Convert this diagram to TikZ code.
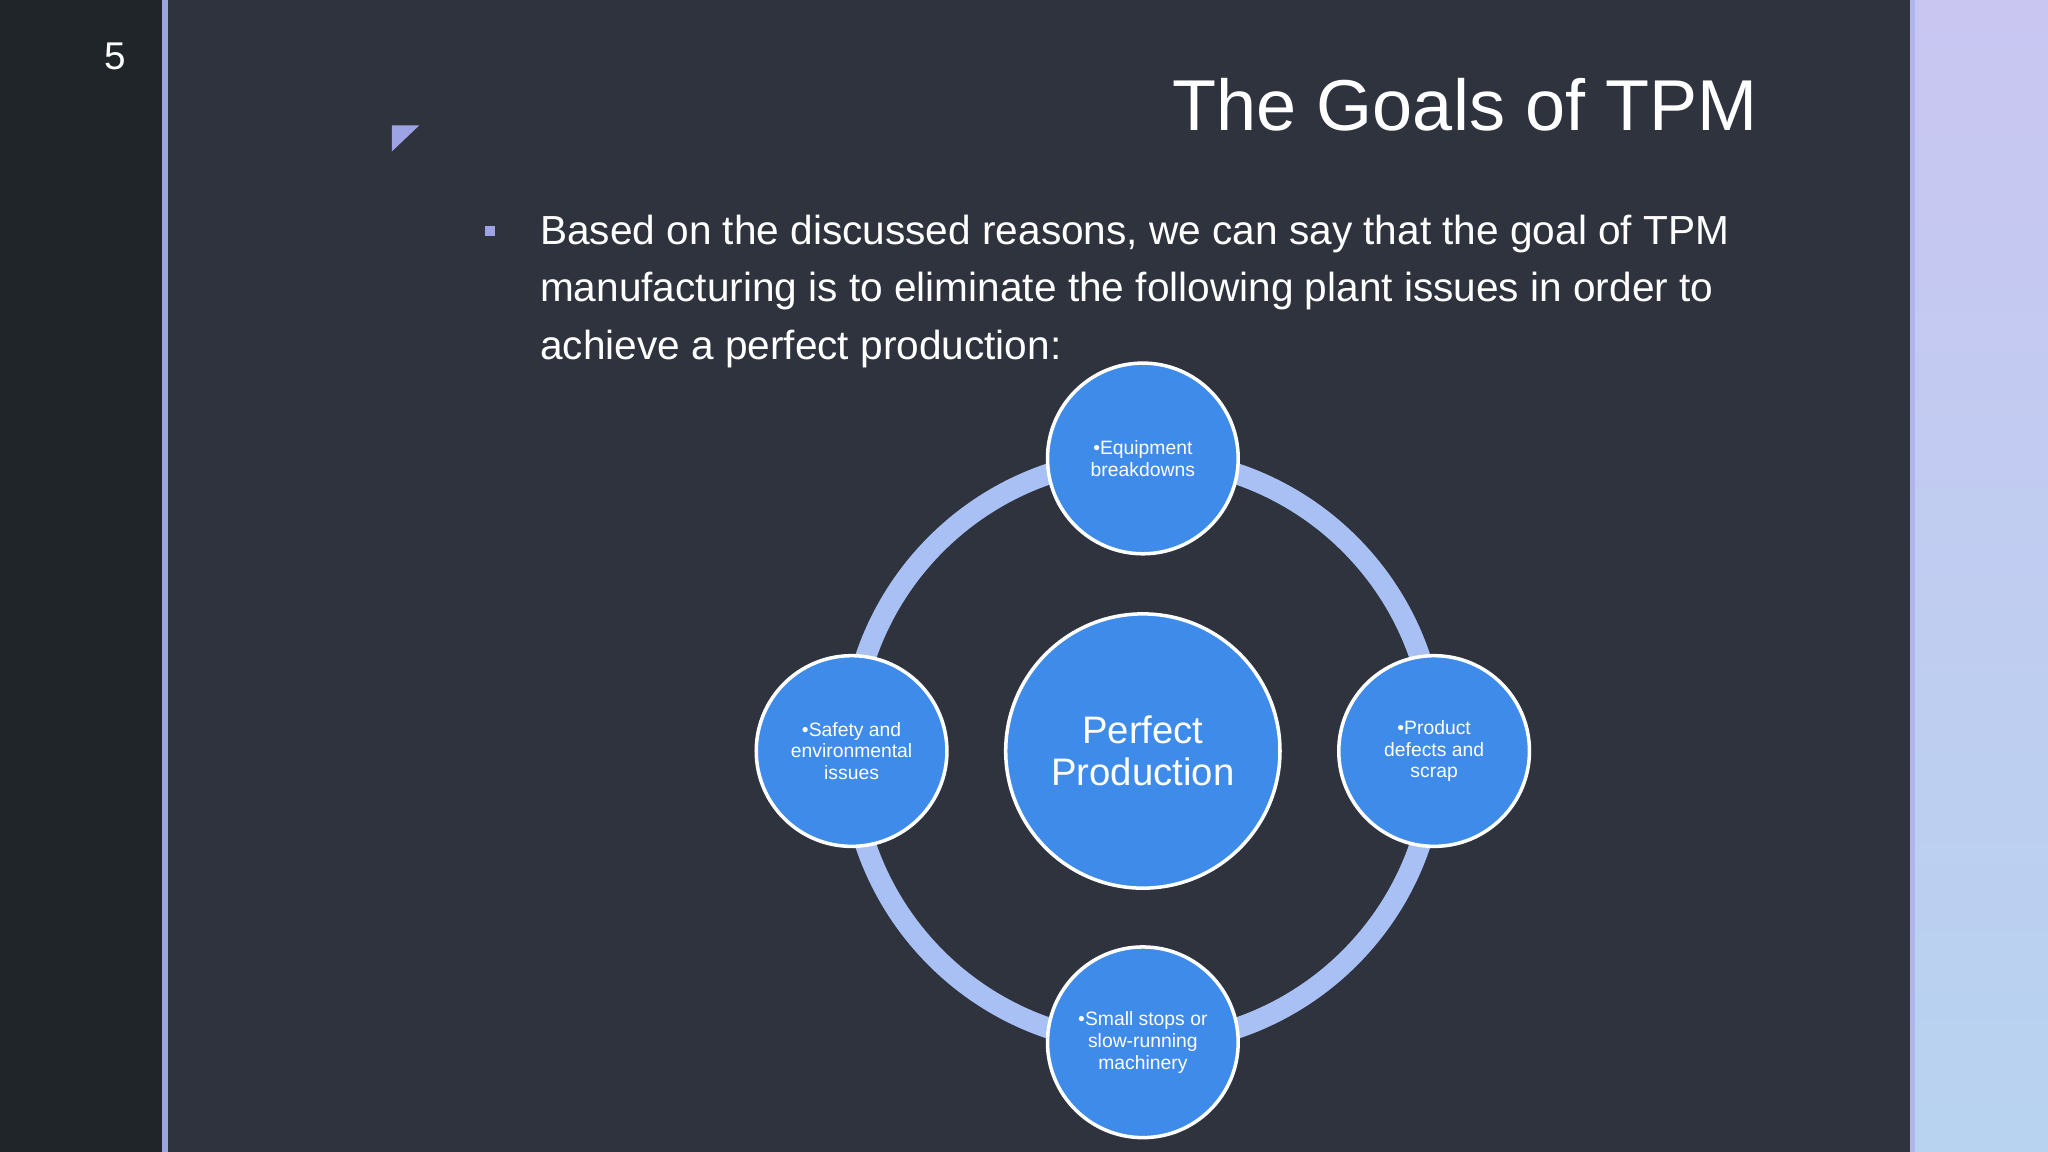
\documentclass[tikz,border=0pt]{standalone}
\usepackage{fontspec}
\setmainfont{Liberation Sans}
\definecolor{bgmain}{HTML}{2E333D}
\definecolor{bgleft}{HTML}{1F2528}
\definecolor{lav}{HTML}{9EA3E6}
\definecolor{ring}{HTML}{A9C0F5}
\definecolor{cfill}{HTML}{3F8BEA}
\definecolor{rlight}{HTML}{B7D3F0}
\definecolor{rlav}{HTML}{C9C6F2}
\tikzset{
  small/.style={circle,draw=white,line width=1pt,fill=cfill,minimum size=146*0.01306cm,inner sep=0pt,text=white,font=\fontsize{5.5}{6.2}\selectfont,align=center},
  big/.style={circle,draw=white,line width=1pt,fill=cfill,minimum size=210*0.01306cm,inner sep=0pt,text=white,font=\fontsize{10.9}{11.8}\selectfont,align=center},
  body/.style={anchor=base west,text=white,font=\fontsize{11.55}{14}\selectfont,inner sep=0pt}
}
\begin{document}
\begin{tikzpicture}[x=0.01306cm,y=-0.01306cm]
\useasboundingbox (0,0) rectangle (1568,882);
\fill[bgmain] (0,0) rectangle (1568,882);
\fill[bgleft] (0,0) rectangle (124,882);
\fill[lav] (124,0) rectangle (129,882);
\shade[top color=rlav,bottom color=rlight] (1463,0) rectangle (1568,882);
\fill[lav!80!white] (1462,0) rectangle (1466,882);
\node[text=white,font=\fontsize{11}{12}\selectfont] (num) at (88,43) {5};
\fill[lav] (300,96) -- (321,96) -- (300,116) -- cycle;
\node[anchor=base east,text=white,font=\fontsize{20.5}{22}\selectfont,inner sep=0pt] (title) at (1346,100) {The Goals of TPM};
\fill[lav] (371,173) rectangle (379,181);
\node[body] (l1) at (413,187) {Based on the discussed reasons, we can say that the goal of TPM};
\node[body] (l2) at (413,231) {manufacturing is to eliminate the following plant issues in order to};
\node[body] (l3) at (413,275) {achieve a perfect production:};
\draw[ring,line width=16*0.01306cm] (875,575) circle [radius=224];
\node[big] (c) at (875,575) {Perfect\\Production};
\node[small] (t) at (875,351) {•Equipment\\breakdowns};
\node[small] (r) at (1098,575) {•Product\\defects and\\scrap};
\node[small] (b) at (875,798) {•Small stops or\\slow-running\\machinery};
\node[small] (l) at (652,575) {•Safety and\\environmental\\issues};
\end{tikzpicture}
\end{document}
